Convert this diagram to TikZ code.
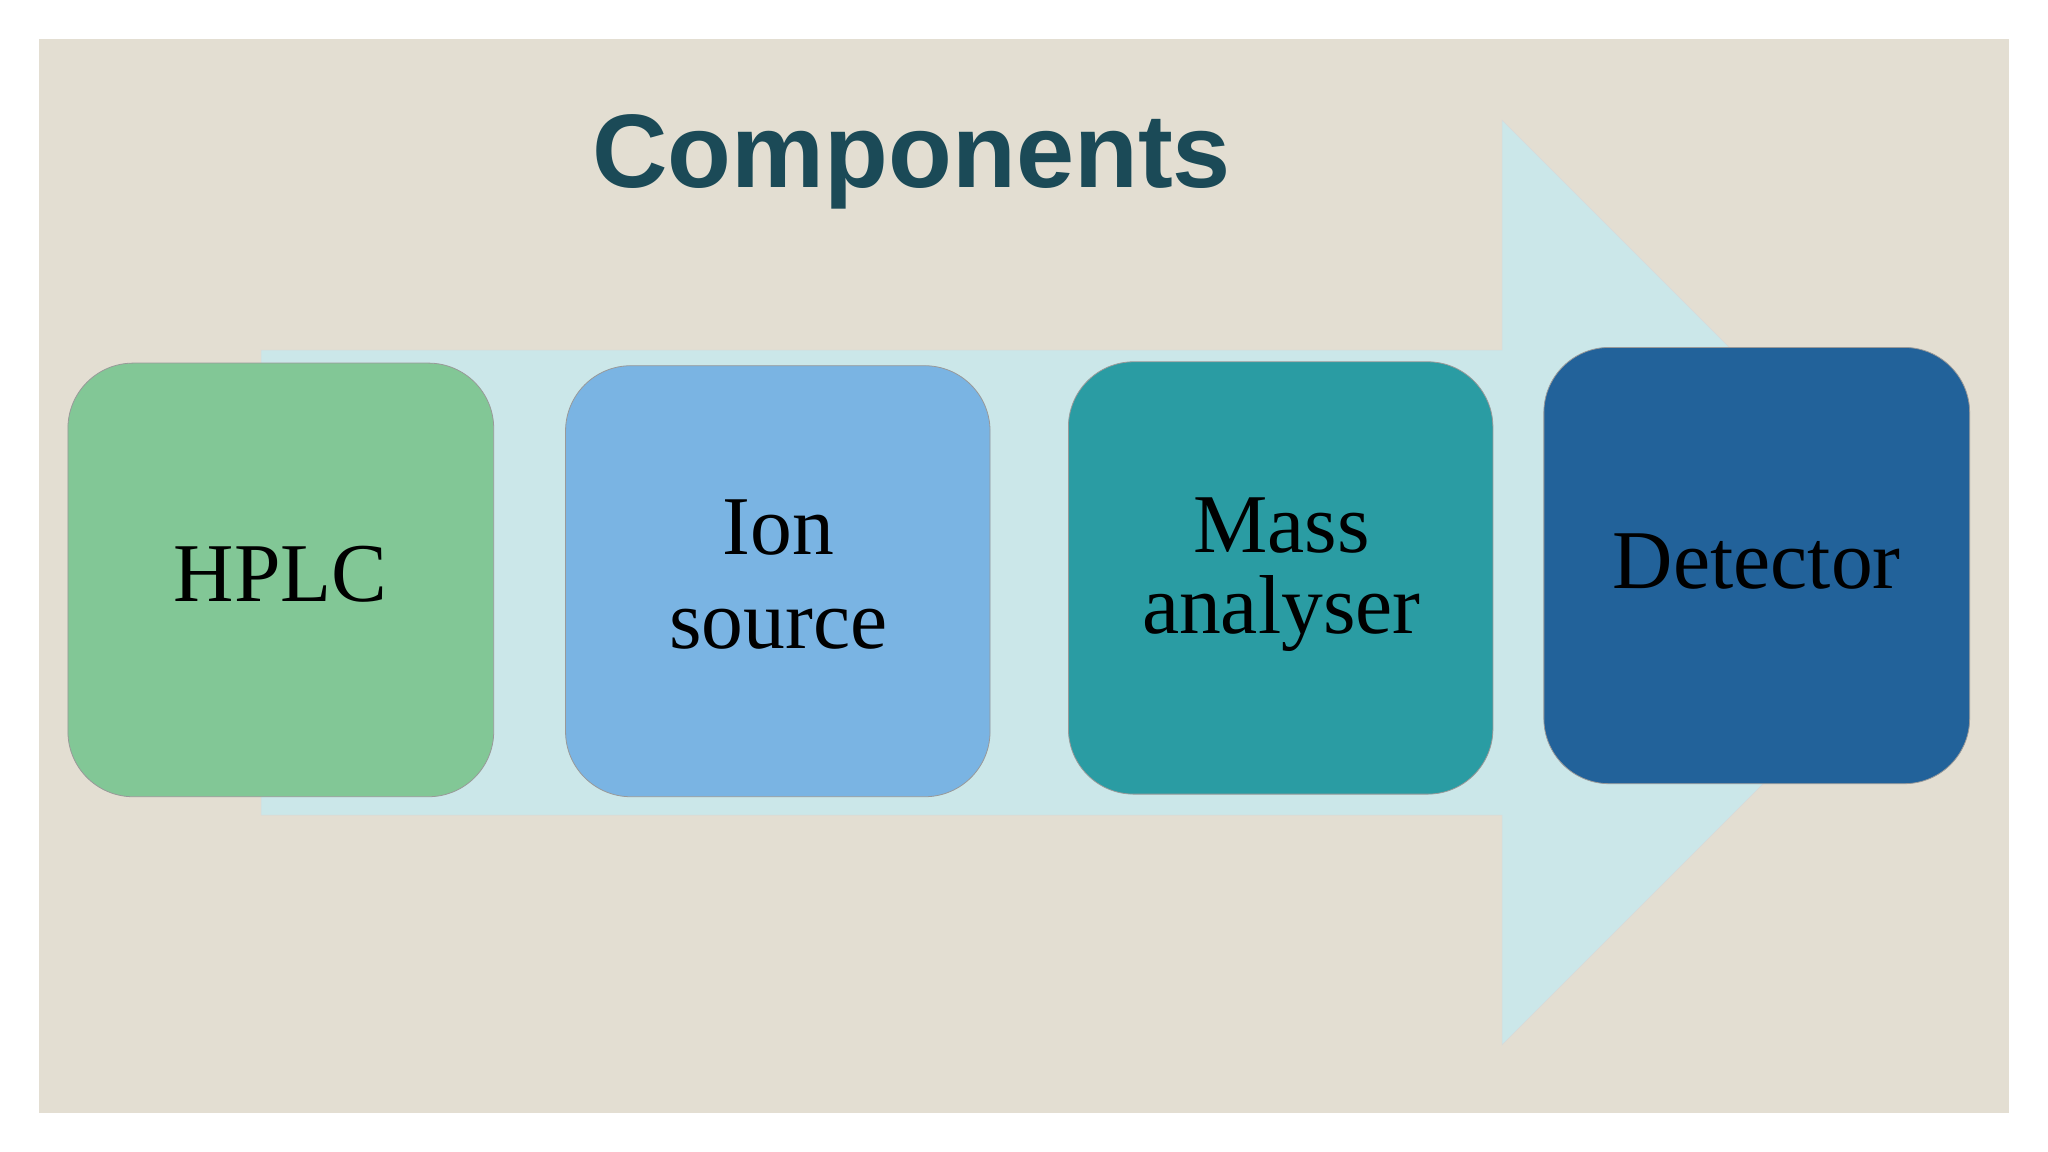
\documentclass[tikz,border=0pt]{standalone}
\usepackage{fontspec}
\setmainfont{Liberation Serif}
\newfontfamily\headfont{Liberation Sans}
\begin{document}
\begin{tikzpicture}[x=1pt,y=-1pt,
  box/.style={rounded corners=50pt,draw=white!60!black,line width=0.6pt},
  lbl/.style={font=\fontsize{64}{66}\selectfont,align=center,text=black}]
\definecolor{bg}{HTML}{E3DED2}
\definecolor{arr}{HTML}{CBE7E9}
\definecolor{c1}{HTML}{82C796}
\definecolor{c2}{HTML}{7AB4E3}
\definecolor{c3}{HTML}{2A9CA3}
\definecolor{c4}{HTML}{22629A}
\definecolor{head}{HTML}{1B4A57}
\useasboundingbox (0,0) rectangle (1568,882);
\fill[white] (0,0) rectangle (1568,882);
\fill[bg] (30,30) rectangle (1538,852);
\fill[arr,draw=white!85!black] (200,268) -- (1150,268) -- (1150,92) -- (1504,446) -- (1150,800) -- (1150,624) -- (200,624) -- cycle;
\node[font=\headfont\bfseries\fontsize{80}{82}\selectfont,text=head] (title) at (698,124) {Components};
\fill[box,fill=c1] (52,278) rectangle (378,610);
\fill[box,fill=c2] (433,280) rectangle (758,610);
\fill[box,fill=c3] (818,277) rectangle (1143,608);
\fill[box,fill=c4] (1182,266) rectangle (1508,600);
\node[lbl] (hplc) at (215,440) {HPLC};
\node[lbl] (ion) at (596,440) {Ion\\[6pt]source};
\node[lbl] (mass) at (981,440) {Mass\\[-4pt]analyser};
\node[lbl] (det) at (1345,430) {Detector};
\end{tikzpicture}
\end{document}
